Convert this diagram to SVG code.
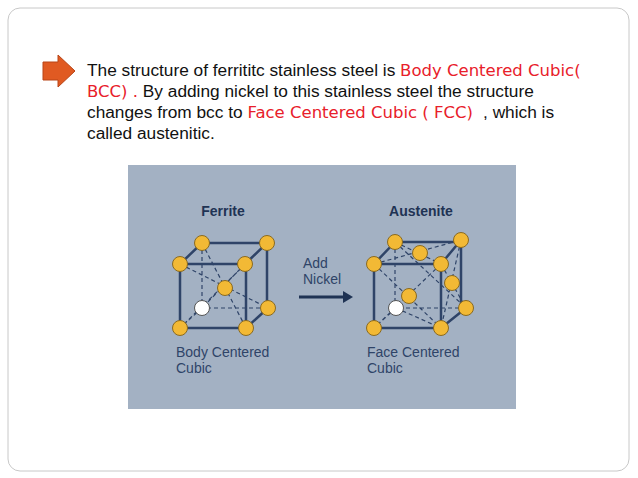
<svg xmlns="http://www.w3.org/2000/svg" width="638" height="478" viewBox="0 0 638 478">
<style>
.t{font-family:"Liberation Sans",Arial,sans-serif;font-size:17.3px;fill:#111}
.r{fill:#e8202a;font-family:"DejaVu Sans",sans-serif;font-size:16.5px}
.s{stroke:#2f4468;stroke-width:2.5;fill:none}
.d{stroke:#2f4468;stroke-width:1.2;stroke-dasharray:4,3;fill:none}
.a{fill:#f2b935;stroke:#8a6a20;stroke-width:1}
.w{fill:#fff;stroke:#555;stroke-width:1}
.l{font-family:"Liberation Sans",Arial,sans-serif;font-size:14px;fill:#2f4468}
.h{font-family:"Liberation Sans",Arial,sans-serif;font-size:14px;font-weight:bold;fill:#1f3354}
</style>
<rect width="638" height="478" fill="#fff"/>
<rect x="8" y="8" width="621" height="463" rx="12" fill="none" stroke="#c8c8c8"/>
<g id="bullet"><polygon points="43,62 58,62 58,55 75,71 58,87 58,80 43,80" fill="#e05a22" stroke="#b84416"/></g>
<g id="text">
<text class="t" x="87" y="76">The structure of ferrititc stainless steel is <tspan class="r">Body Centered Cubic(</tspan></text>
<text class="t" x="87" y="97"><tspan class="r">BCC) .</tspan> By adding nickel to this stainless steel the structure</text>
<text class="t" x="87" y="118">changes from bcc to <tspan class="r">Face Centered Cubic ( FCC)</tspan><tspan dx="10">, which is</tspan></text>
<text class="t" x="87" y="139">called austenitic.</text>
</g>
<rect x="128" y="165" width="388" height="244" fill="#a3b1c3"/>
<g id="ferrite">
<text class="h" x="223" y="216" text-anchor="middle">Ferrite</text>
<path class="d" d="M202,243V308H268M202,308L180,328M180,264L268,308M245,264L202,308M202,243L246,328M267,243L180,328"/>
<path class="s" d="M180,264H246V328H180ZM202,243H267V308M202,243L180,264M267,243L245,264M268,308L246,328"/>
<circle class="a" cx="225" cy="288" r="7.5"/><circle class="w" cx="202" cy="308" r="7.5"/>
<circle class="a" cx="202" cy="243" r="7.5"/><circle class="a" cx="267" cy="243" r="7.5"/><circle class="a" cx="180" cy="264" r="7.5"/><circle class="a" cx="245" cy="264" r="7.5"/><circle class="a" cx="268" cy="308" r="7.5"/><circle class="a" cx="180" cy="328" r="7.5"/><circle class="a" cx="246" cy="328" r="7.5"/>
<text class="l" x="176" y="357">Body Centered</text><text class="l" x="176" y="373">Cubic</text>
</g>
<g id="connectors"><line x1="299" y1="297" x2="345" y2="297" stroke="#1f3354" stroke-width="3"/><polygon points="343,291 353,297 343,303" fill="#1f3354"/>
<text class="l" x="303" y="268">Add</text><text class="l" x="303" y="284">Nickel</text></g>
<g id="austenite">
<text class="h" x="421" y="216" text-anchor="middle">Austenite</text>
<path class="d" d="M395,242V308H466M396,308L374,328M374,264L461,240M395,242L441,264M374,264L441,328M441,264L374,328M441,264L466,308M461,240L441,328M395,242L466,308M396,308L441,328"/>
<path class="s" d="M374,264H441V328H374ZM395,242H461V308M395,242L374,264M461,240L441,264M466,308L441,328"/>
<circle class="w" cx="396" cy="308" r="7.5"/>
<circle class="a" cx="420" cy="253" r="7.5"/><circle class="a" cx="452" cy="283" r="7.5"/><circle class="a" cx="409" cy="296" r="7.5"/>
<circle class="a" cx="395" cy="242" r="7.5"/><circle class="a" cx="461" cy="240" r="7.5"/><circle class="a" cx="374" cy="264" r="7.5"/><circle class="a" cx="441" cy="264" r="7.5"/><circle class="a" cx="466" cy="308" r="7.5"/><circle class="a" cx="374" cy="328" r="7.5"/><circle class="a" cx="441" cy="328" r="7.5"/>
<text class="l" x="367" y="357">Face Centered</text><text class="l" x="367" y="373">Cubic</text>
</g>
</svg>
